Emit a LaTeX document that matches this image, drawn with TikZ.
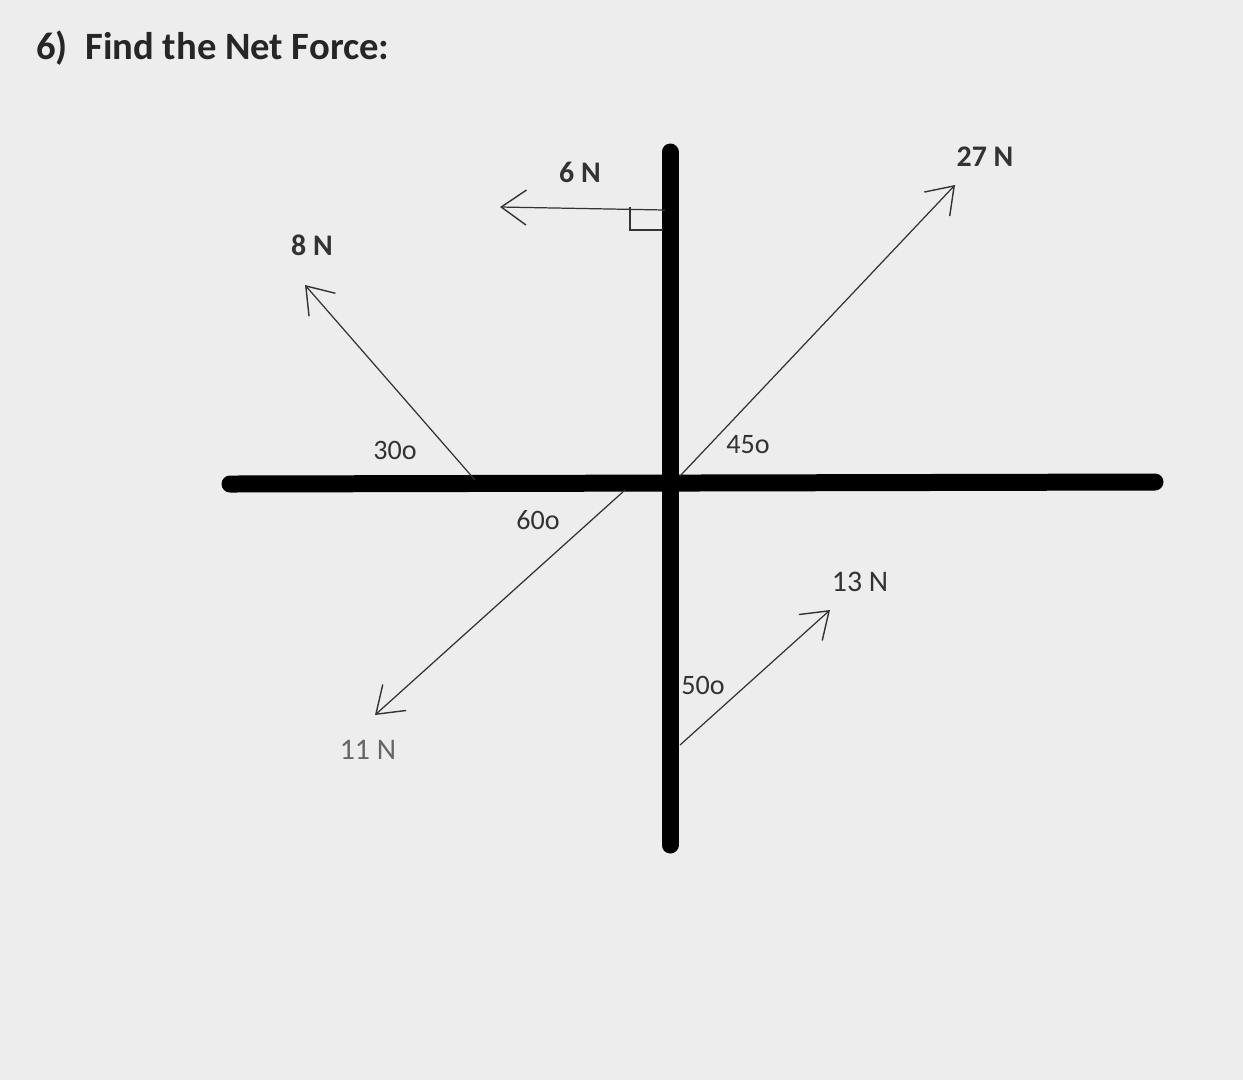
\documentclass[tikz,border=0pt]{standalone}
\usepackage{fontspec}
\setmainfont{Carlito}
\usetikzlibrary{arrows.meta}
\begin{document}
\begin{tikzpicture}[x=0.02cm,y=-0.02cm,
  vec/.style={draw=black!80, line width=0.7pt, -{Straight Barb[length=5mm,width=7mm,line width=0.8pt]}},
  lbl/.style={font=\fontsize{17}{17}\selectfont\bfseries, text=black!80},
  ang/.style={font=\fontsize{16}{16}\selectfont, text=black!80}]
\fill[black!7] (0,0) rectangle (1243,1080);
\useasboundingbox (0,0) rectangle (1243,1080);
\node[anchor=west, font=\fontsize{22}{22}\selectfont\bfseries, text=black!85] (title) at (30,48) {6)\ \ Find the Net Force:};
\coordinate (hl) at (230,484); \coordinate (hr) at (1155,482);
\coordinate (vt) at (670,152); \coordinate (vb) at (670,845);
\draw[line width=3.4mm, line cap=round] (hl) -- (hr);
\draw[line width=3.4mm, line cap=round] (vt) -- (vb);
% 6 N
\coordinate (s6) at (665,210); \coordinate (e6) at (500,207);
\draw[vec] (s6) -- (e6);
\draw[black!80, line width=1.2pt] (630,207) -- (630,230) -- (663,230);
\node[lbl] (l6) at (580,172) {6 N};
% 27 N
\coordinate (s27) at (680,476); \coordinate (e27) at (955,185);
\draw[vec] (s27) -- (e27);
\node[lbl] (l27) at (985,157) {27 N};
\node[ang] (a45) at (748,445) {45o};
% 8 N
\coordinate (s8) at (475,480); \coordinate (e8) at (305,285);
\draw[vec] (s8) -- (e8);
\node[lbl] (l8) at (312,245) {8 N};
\node[ang] (a30) at (395,450) {30o};
% 11 N
\coordinate (s11) at (625,490); \coordinate (e11) at (375,715);
\draw[vec] (s11) -- (e11);
\node[lbl, font=\fontsize{17}{17}\selectfont, text=black!60] (l11) at (368,750) {11 N};
\node[ang] (a60) at (538,520) {60o};
% 13 N
\coordinate (s13) at (680,745); \coordinate (e13) at (830,610);
\draw[vec] (s13) -- (e13);
\node[lbl, font=\fontsize{17}{17}\selectfont] (l13) at (860,582) {13 N};
\node[ang] (a50) at (703,685) {50o};
\end{tikzpicture}
\end{document}
